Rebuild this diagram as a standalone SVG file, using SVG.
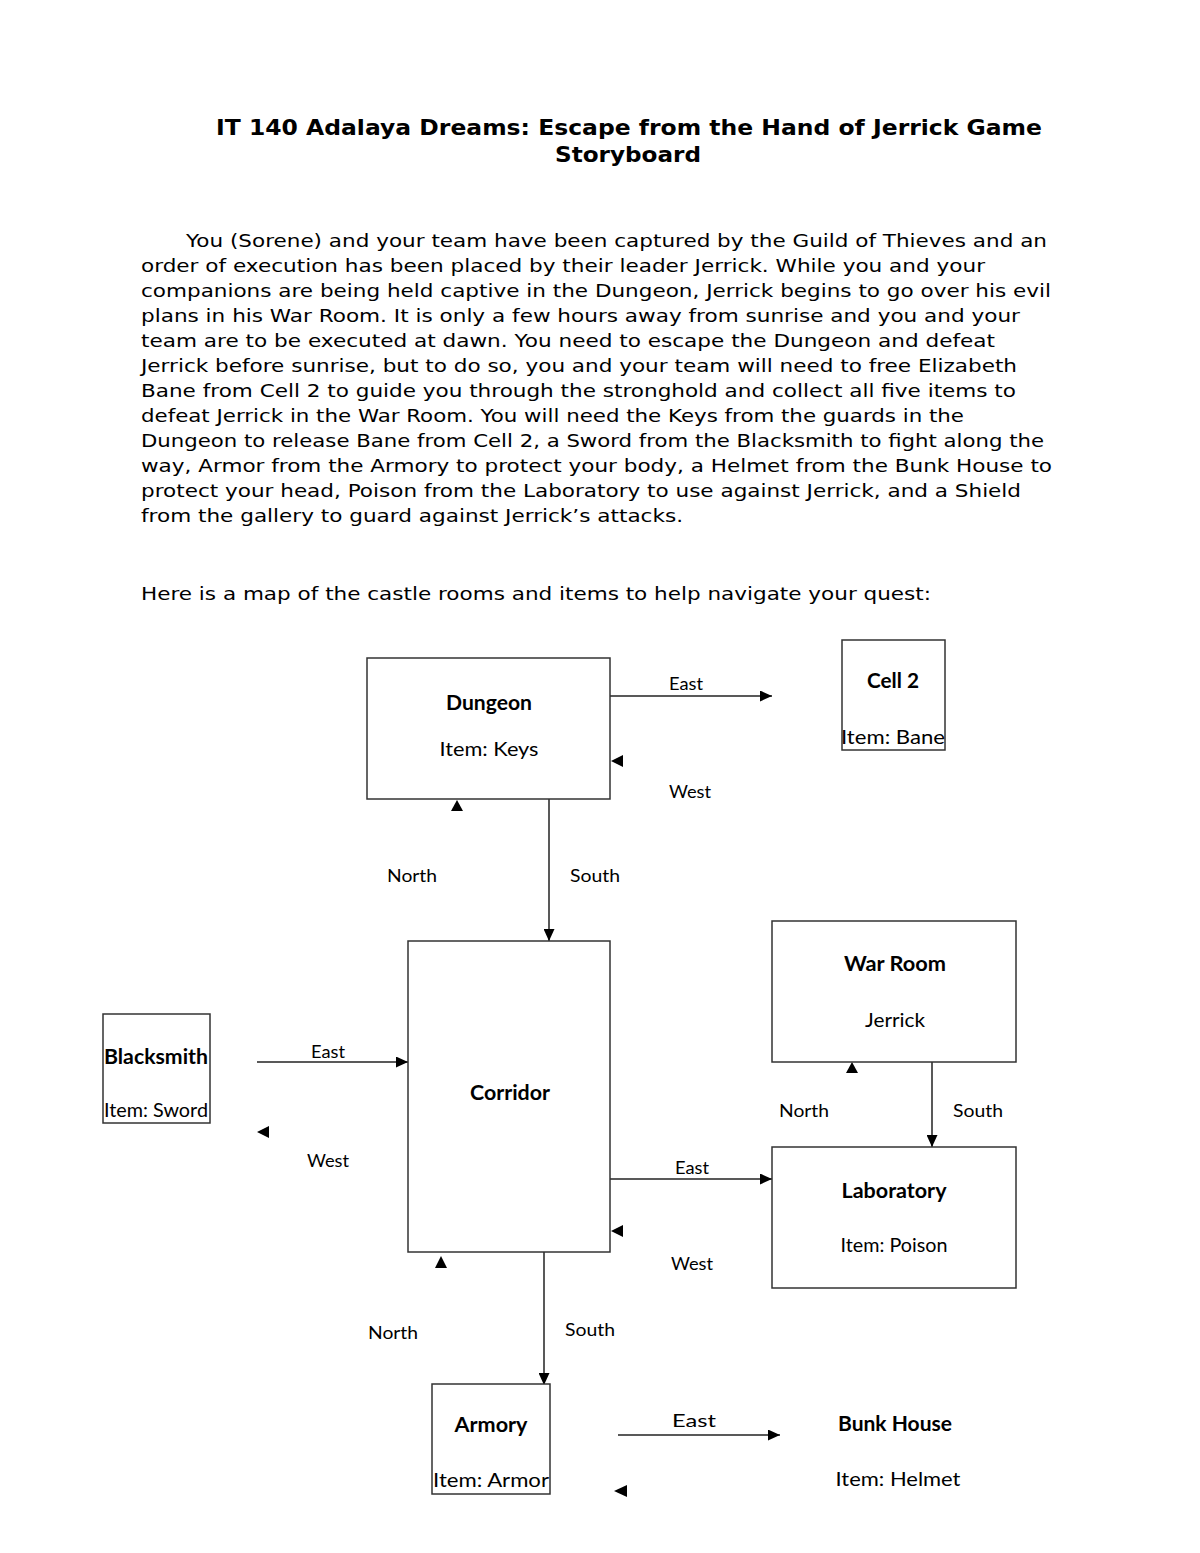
<svg xmlns="http://www.w3.org/2000/svg" width="1200" height="1553" viewBox="0 0 1200 1553">
<defs>
<style>
.title{font-family:"DejaVu Sans",Verdana,sans-serif;font-weight:bold;font-size:22px;fill:#000;text-anchor:middle}
.body{font-family:"DejaVu Sans",Verdana,sans-serif;font-size:18px;fill:#000}
.nb{font-family:Lato,"Open Sans",sans-serif;font-weight:bold;font-size:21px;fill:#000;text-anchor:middle}
.nt{font-family:Lato,"Open Sans",sans-serif;font-size:20px;fill:#000;text-anchor:middle}
.lb{font-family:Lato,"Open Sans",sans-serif;font-size:17px;fill:#000;text-anchor:middle}
.box{fill:#fff;stroke:#333;stroke-width:1.5}
.ln{stroke:#222;stroke-width:1.5;fill:none}
.ah{fill:#000}
</style>
<marker id="arr" markerUnits="userSpaceOnUse" markerWidth="13" markerHeight="11" refX="12" refY="5.5" orient="auto">
<path d="M0,0 L12,5.5 L0,11 Z" fill="#000"/>
</marker>
</defs>
<rect width="1200" height="1553" fill="#fff"/>

<g id="header">
<text class="title" x="629" y="135" textLength="826" lengthAdjust="spacingAndGlyphs">IT 140 Adalaya Dreams: Escape from the Hand of Jerrick Game</text>
<text class="title" x="628" y="162" textLength="146" lengthAdjust="spacingAndGlyphs">Storyboard</text>
</g>

<g id="story">
<text class="body" x="186" y="247" textLength="861" lengthAdjust="spacingAndGlyphs">You (Sorene) and your team have been captured by the Guild of Thieves and an</text>
<text class="body" x="141" y="272" textLength="844" lengthAdjust="spacingAndGlyphs">order of execution has been placed by their leader Jerrick. While you and your</text>
<text class="body" x="141" y="297" textLength="910" lengthAdjust="spacingAndGlyphs">companions are being held captive in the Dungeon, Jerrick begins to go over his evil</text>
<text class="body" x="141" y="322" textLength="879" lengthAdjust="spacingAndGlyphs">plans in his War Room. It is only a few hours away from sunrise and you and your</text>
<text class="body" x="141" y="347" textLength="854" lengthAdjust="spacingAndGlyphs">team are to be executed at dawn. You need to escape the Dungeon and defeat</text>
<text class="body" x="141" y="372" textLength="876" lengthAdjust="spacingAndGlyphs">Jerrick before sunrise, but to do so, you and your team will need to free Elizabeth</text>
<text class="body" x="141" y="397" textLength="875" lengthAdjust="spacingAndGlyphs">Bane from Cell 2 to guide you through the stronghold and collect all five items to</text>
<text class="body" x="141" y="422" textLength="823" lengthAdjust="spacingAndGlyphs">defeat Jerrick in the War Room. You will need the Keys from the guards in the</text>
<text class="body" x="141" y="447" textLength="903" lengthAdjust="spacingAndGlyphs">Dungeon to release Bane from Cell 2, a Sword from the Blacksmith to fight along the</text>
<text class="body" x="141" y="472" textLength="911" lengthAdjust="spacingAndGlyphs">way, Armor from the Armory to protect your body, a Helmet from the Bunk House to</text>
<text class="body" x="141" y="497" textLength="880" lengthAdjust="spacingAndGlyphs">protect your head, Poison from the Laboratory to use against Jerrick, and a Shield</text>
<text class="body" x="141" y="522" textLength="542" lengthAdjust="spacingAndGlyphs">from the gallery to guard against Jerrick’s attacks.</text>
<text class="body" x="141" y="600" textLength="790" lengthAdjust="spacingAndGlyphs">Here is a map of the castle rooms and items to help navigate your quest:</text>
</g>

<g id="connectors">
<line class="ln" x1="610" y1="696" x2="772" y2="696" marker-end="url(#arr)"/>
<polygon class="ah" points="611,761 623,755 623,767"/>
<polygon class="ah" points="457,800 451,811 463,811"/>
<line class="ln" x1="549" y1="799" x2="549" y2="941" marker-end="url(#arr)"/>
<line class="ln" x1="257" y1="1062" x2="408" y2="1062" marker-end="url(#arr)"/>
<polygon class="ah" points="257,1132 269,1126 269,1138"/>
<polygon class="ah" points="852,1062 846,1073 858,1073"/>
<line class="ln" x1="932" y1="1062" x2="932" y2="1147" marker-end="url(#arr)"/>
<line class="ln" x1="610" y1="1179" x2="772" y2="1179" marker-end="url(#arr)"/>
<polygon class="ah" points="611,1231 623,1225 623,1237"/>
<polygon class="ah" points="441,1256 435,1268 447,1268"/>
<line class="ln" x1="544" y1="1252" x2="544" y2="1385" marker-end="url(#arr)"/>
<line class="ln" x1="618" y1="1435" x2="780" y2="1435" marker-end="url(#arr)"/>
<polygon class="ah" points="614,1491 627,1485 627,1497"/>
<text class="lb" x="686" y="690" textLength="34" lengthAdjust="spacingAndGlyphs">East</text>
<text class="lb" x="690" y="798" textLength="42" lengthAdjust="spacingAndGlyphs">West</text>
<text class="lb" x="412" y="882" textLength="50" lengthAdjust="spacingAndGlyphs">North</text>
<text class="lb" x="595" y="882" textLength="50" lengthAdjust="spacingAndGlyphs">South</text>
<text class="lb" x="328" y="1058" textLength="34" lengthAdjust="spacingAndGlyphs">East</text>
<text class="lb" x="328" y="1167" textLength="42" lengthAdjust="spacingAndGlyphs">West</text>
<text class="lb" x="804" y="1117" textLength="50" lengthAdjust="spacingAndGlyphs">North</text>
<text class="lb" x="978" y="1117" textLength="50" lengthAdjust="spacingAndGlyphs">South</text>
<text class="lb" x="692" y="1174" textLength="34" lengthAdjust="spacingAndGlyphs">East</text>
<text class="lb" x="692" y="1270" textLength="42" lengthAdjust="spacingAndGlyphs">West</text>
<text class="lb" x="393" y="1339" textLength="50" lengthAdjust="spacingAndGlyphs">North</text>
<text class="lb" x="590" y="1336" textLength="50" lengthAdjust="spacingAndGlyphs">South</text>
<text class="lb" x="694" y="1427" font-size="21" textLength="44" lengthAdjust="spacingAndGlyphs">East</text>
</g>

<g id="dungeon">
<rect class="box" x="367" y="658" width="243" height="141"/>
<text class="nb" x="489" y="710" textLength="86" lengthAdjust="spacingAndGlyphs">Dungeon</text>
<text class="nt" x="489" y="756" textLength="99" lengthAdjust="spacingAndGlyphs">Item: Keys</text>
</g>

<g id="cell2">
<rect class="box" x="842" y="640" width="103" height="110"/>
<text class="nb" x="893" y="688" textLength="52" lengthAdjust="spacingAndGlyphs">Cell 2</text>
<text class="nt" x="893" y="744" textLength="104" lengthAdjust="spacingAndGlyphs">Item: Bane</text>
</g>

<g id="corridor">
<rect class="box" x="408" y="941" width="202" height="311"/>
<text class="nb" x="510" y="1100" textLength="80" lengthAdjust="spacingAndGlyphs">Corridor</text>
</g>

<g id="blacksmith">
<rect class="box" x="103" y="1014" width="107" height="109"/>
<text class="nb" x="156" y="1064" textLength="104" lengthAdjust="spacingAndGlyphs">Blacksmith</text>
<text class="nt" x="156" y="1117" font-size="18" textLength="104" lengthAdjust="spacingAndGlyphs">Item: Sword</text>
</g>

<g id="warroom">
<rect class="box" x="772" y="921" width="244" height="141"/>
<text class="nb" x="895" y="971" textLength="102" lengthAdjust="spacingAndGlyphs">War Room</text>
<text class="nt" x="895" y="1027" textLength="60" lengthAdjust="spacingAndGlyphs">Jerrick</text>
</g>

<g id="laboratory">
<rect class="box" x="772" y="1147" width="244" height="141"/>
<text class="nb" x="894" y="1198" textLength="105" lengthAdjust="spacingAndGlyphs">Laboratory</text>
<text class="nt" x="894" y="1252" font-size="18" textLength="107" lengthAdjust="spacingAndGlyphs">Item: Poison</text>
</g>

<g id="armory">
<rect class="box" x="432" y="1384" width="118" height="110"/>
<text class="nb" x="491" y="1432" textLength="73" lengthAdjust="spacingAndGlyphs">Armory</text>
<text class="nt" x="491" y="1487" textLength="116" lengthAdjust="spacingAndGlyphs">Item: Armor</text>
</g>

<g id="bunkhouse">
<text class="nb" x="895" y="1431" textLength="114" lengthAdjust="spacingAndGlyphs">Bunk House</text>
<text class="nt" x="898" y="1486" font-size="21" textLength="125" lengthAdjust="spacingAndGlyphs">Item: Helmet</text>
</g>
</svg>
